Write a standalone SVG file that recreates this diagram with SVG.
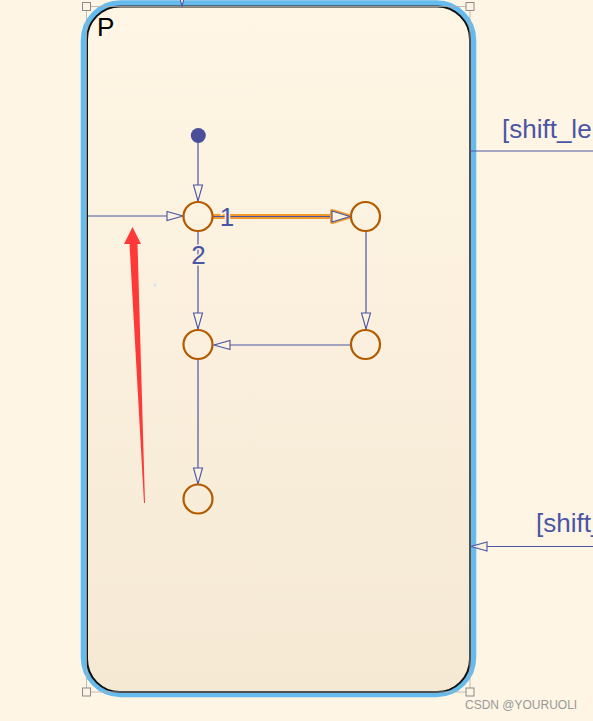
<svg xmlns="http://www.w3.org/2000/svg" width="593" height="721" viewBox="0 0 593 721">
<style>
.conn{stroke:#4B55A5;stroke-width:1.2;fill:none}
.junc{fill:none;stroke:#B35A00;stroke-width:2.2}
.lbl{font-family:"Liberation Sans",Arial,sans-serif;font-size:26px;fill:#4B55A5}
.halo{paint-order:stroke;stroke:#FCF2E0;stroke-width:3}
.handle{fill:#FCF3E3;stroke:#8A8A8A;stroke-width:1}
</style>
<defs>
<linearGradient id="bg" x1="0" y1="0" x2="0" y2="1">
<stop offset="0" stop-color="#FFF6E5"/>
<stop offset="1" stop-color="#F5E9D4"/>
</linearGradient>
<marker id="open" markerUnits="userSpaceOnUse" markerWidth="20" markerHeight="12" refX="17" refY="5.5" orient="auto">
<path d="M1,1 L17,5.5 L1,10 Z" fill="#FCF2E0" stroke="#4B55A5" stroke-width="1.1"/>
</marker>
<marker id="hot" markerUnits="userSpaceOnUse" markerWidth="26" markerHeight="18" refX="22" refY="9" orient="auto">
<path d="M3,3.5 L21,9 L3,14.5 Z" fill="none" stroke="#F29A2E" stroke-width="4" stroke-linejoin="round"/>
<path d="M3,3.5 L21,9 L3,14.5 Z" fill="#FCF2E0" stroke="#4B55A5" stroke-width="1.1"/>
</marker>
</defs>
<rect width="593" height="721" fill="#FEF5E4"/>
<g id="chart-P">
<rect x="83.5" y="3" width="390" height="691.5" rx="37" fill="none" stroke="#66BBEE" stroke-width="5.5"/>
<rect x="87" y="6.5" width="383" height="685.5" rx="33" fill="url(#bg)" stroke="#111" stroke-width="2"/>
<text x="97" y="36" font-family="'Liberation Sans',Arial,sans-serif" font-size="26" fill="#000">P</text>
</g>
<g id="selection">
<rect x="86.5" y="6.5" width="383.5" height="685.5" fill="none" stroke="#B0B0B0" stroke-width="0.8"/>
<rect class="handle" x="82.5" y="2.5" width="8" height="8"/>
<rect class="handle" x="466" y="2.5" width="8" height="8"/>
<rect class="handle" x="82.5" y="688" width="8" height="8"/>
<rect class="handle" x="466" y="688" width="8" height="8"/>
</g>
<g id="connectors">
<line class="conn" x1="182" y1="-12" x2="182" y2="6" marker-end="url(#open)"/>
<line class="conn" x1="198" y1="142" x2="198" y2="201" marker-end="url(#open)"/>
<line class="conn" x1="88" y1="216" x2="183" y2="216" marker-end="url(#open)"/>
<line x1="213" y1="216.5" x2="333" y2="216.5" stroke="#F29A2E" stroke-width="5"/>
<line class="conn" x1="213" y1="216.5" x2="351" y2="216.5" marker-end="url(#hot)"/>
<line class="conn" x1="198" y1="231" x2="198" y2="329" marker-end="url(#open)"/>
<line class="conn" x1="366" y1="231" x2="366" y2="329" marker-end="url(#open)"/>
<line class="conn" x1="351" y1="345" x2="214" y2="345" marker-end="url(#open)"/>
<line class="conn" x1="198" y1="360" x2="198" y2="484" marker-end="url(#open)"/>
<line class="conn" x1="470" y1="151" x2="600" y2="151"/>
<line class="conn" x1="600" y1="546.5" x2="471" y2="546.5" marker-end="url(#open)"/>
<text class="lbl halo" x="227" y="226" text-anchor="middle">1</text>
<text class="lbl halo" x="198.5" y="264" text-anchor="middle">2</text>
<text class="lbl" x="502" y="138">[shift_le</text>
<text class="lbl" x="536" y="532">[shift_</text>
</g>
<g id="default-dot">
<circle cx="198.3" cy="135.5" r="7.5" fill="#4B4F9A"/>
</g>
<g id="j1"><circle class="junc" cx="198" cy="216.5" r="14.5"/></g>
<g id="j2"><circle class="junc" cx="365.5" cy="216.5" r="14.5"/></g>
<g id="j3"><circle class="junc" cx="198" cy="344.5" r="14.5"/></g>
<g id="j4"><circle class="junc" cx="365.5" cy="344.5" r="14.5"/></g>
<g id="j5"><circle class="junc" cx="198" cy="499" r="14.5"/></g>
<circle cx="155" cy="285" r="1.6" fill="#CFE5F3"/>
<polygon points="132.5,227 141,244 137.5,244 145,503 144,503 129.5,244 124,244" fill="#FF3838"/>
<text x="465" y="709" font-family="'Liberation Sans',Arial,sans-serif" font-size="12" fill="#999">CSDN @YOURUOLI</text>
</svg>
